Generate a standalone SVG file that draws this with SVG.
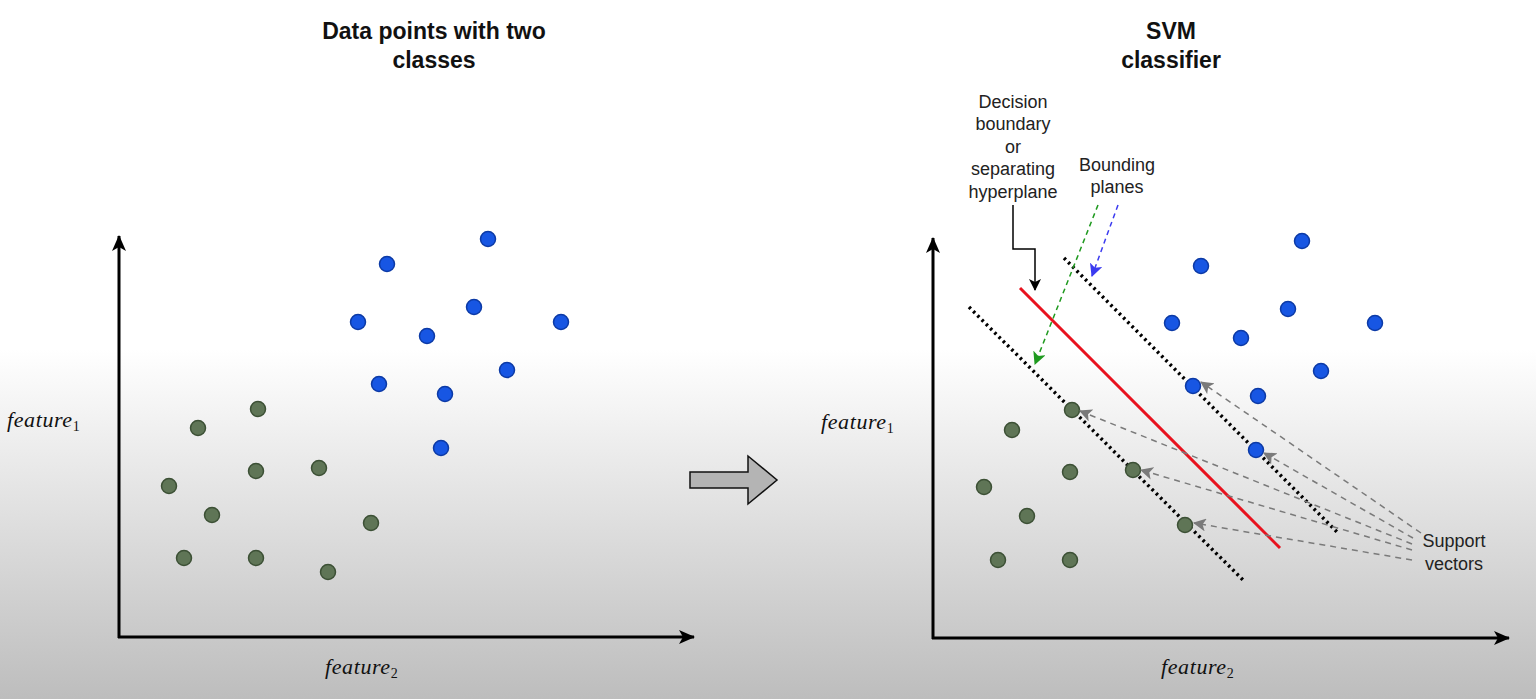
<svg xmlns="http://www.w3.org/2000/svg" width="1536" height="699" viewBox="0 0 1536 699">
<defs>
<linearGradient id="bg" x1="0" y1="0" x2="0" y2="699" gradientUnits="userSpaceOnUse">
<stop offset="0" stop-color="#ffffff"/>
<stop offset="0.5" stop-color="#ffffff"/>
<stop offset="1" stop-color="#bdbdbd"/>
</linearGradient>
<marker id="ah" viewBox="0 0 12 12" refX="11" refY="6" markerWidth="12" markerHeight="12" markerUnits="userSpaceOnUse" orient="auto">
<path d="M0,0 L12,6 L0,12 L3,6 Z" fill="#000"/>
</marker>
<marker id="ahBig" viewBox="0 0 16 16" refX="15" refY="8" markerWidth="16" markerHeight="16" markerUnits="userSpaceOnUse" orient="auto">
<path d="M0,1 L16,8 L0,15 L4,8 Z" fill="#000"/>
</marker>
<marker id="ahGreen" viewBox="0 0 12 12" refX="11" refY="6" markerWidth="13" markerHeight="13" markerUnits="userSpaceOnUse" orient="auto">
<path d="M0,0 L12,6 L0,12 L3,6 Z" fill="#1f9a1f"/>
</marker>
<marker id="ahBlue" viewBox="0 0 12 12" refX="11" refY="6" markerWidth="13" markerHeight="13" markerUnits="userSpaceOnUse" orient="auto">
<path d="M0,0 L12,6 L0,12 L3,6 Z" fill="#3b3bf0"/>
</marker>
<marker id="ahGray" viewBox="0 0 12 12" refX="11" refY="6" markerWidth="13" markerHeight="13" markerUnits="userSpaceOnUse" orient="auto">
<path d="M0,0 L12,6 L0,12 L3,6 Z" fill="#7a7a7a"/>
</marker>
</defs>
<style>
.title{font-family:"Liberation Sans",Arial,sans-serif;font-size:23px;font-weight:bold;fill:#111;text-anchor:middle}
.lbl{font-family:"Liberation Sans",Arial,sans-serif;font-size:18px;fill:#222;text-anchor:middle}
.math{font-family:"Liberation Serif","DejaVu Serif",serif;font-style:italic;font-size:22px;letter-spacing:0.6px;fill:#111}
.sub{font-style:normal;font-size:14px}
.axis{stroke:#000;stroke-width:3;fill:none}
.blue{fill:#1756e3;stroke:#0c3aa6;stroke-width:1.5}
.green{fill:#5f7556;stroke:#3c5035;stroke-width:1.5}
.dotline{stroke:#000;stroke-width:3.5;stroke-dasharray:2.5 3.5;fill:none}
.sv{stroke:#7a7a7a;stroke-width:1.5;stroke-dasharray:6 5;fill:none}
</style>
<rect x="0" y="0" width="1536" height="699" fill="url(#bg)"/>

<g id="title-left">
<text class="title" x="434" y="39">Data points with two</text>
<text class="title" x="434" y="68">classes</text>
</g>
<g id="title-right">
<text class="title" x="1171" y="39">SVM</text>
<text class="title" x="1171" y="68">classifier</text>
</g>

<g id="axes-left">
<line class="axis" x1="119" y1="638" x2="119" y2="236" marker-end="url(#ahBig)"/>
<line class="axis" x1="118" y1="637" x2="694" y2="637" marker-end="url(#ahBig)"/>
<text class="math" x="7" y="427">feature<tspan class="sub" dy="4">1</tspan></text>
<text class="math" x="325" y="674">feature<tspan class="sub" dy="4">2</tspan></text>
</g>

<g id="axes-right">
<line class="axis" x1="933" y1="639" x2="933" y2="238" marker-end="url(#ahBig)"/>
<line class="axis" x1="932" y1="638" x2="1509" y2="638" marker-end="url(#ahBig)"/>
<text class="math" x="821" y="429">feature<tspan class="sub" dy="4">1</tspan></text>
<text class="math" x="1161" y="674">feature<tspan class="sub" dy="4">2</tspan></text>
</g>

<g id="points-left">
<circle class="blue" cx="488" cy="239" r="7.5"/>
<circle class="blue" cx="387" cy="264" r="7.5"/>
<circle class="blue" cx="474" cy="307" r="7.5"/>
<circle class="blue" cx="358" cy="322" r="7.5"/>
<circle class="blue" cx="427" cy="336" r="7.5"/>
<circle class="blue" cx="561" cy="322" r="7.5"/>
<circle class="blue" cx="507" cy="370" r="7.5"/>
<circle class="blue" cx="379" cy="384" r="7.5"/>
<circle class="blue" cx="445" cy="394" r="7.5"/>
<circle class="blue" cx="441" cy="448" r="7.5"/>
<circle class="green" cx="258" cy="409" r="7.5"/>
<circle class="green" cx="198" cy="428" r="7.5"/>
<circle class="green" cx="256" cy="471" r="7.5"/>
<circle class="green" cx="319" cy="468" r="7.5"/>
<circle class="green" cx="169" cy="486" r="7.5"/>
<circle class="green" cx="212" cy="515" r="7.5"/>
<circle class="green" cx="371" cy="523" r="7.5"/>
<circle class="green" cx="184" cy="558" r="7.5"/>
<circle class="green" cx="256" cy="558" r="7.5"/>
<circle class="green" cx="328" cy="572" r="7.5"/>
</g>

<g id="transform-arrow">
<path d="M690,472 L748,472 L748,456 L777,480 L748,504 L748,488 L690,488 Z" fill="#b4b4b4" stroke="#111" stroke-width="1.5" stroke-linejoin="miter"/>
</g>

<g id="planes">
<line class="dotline" x1="969" y1="307" x2="1244" y2="581"/>
<line class="dotline" x1="1064" y1="258" x2="1338" y2="533"/>
<line id="decision-boundary" x1="1020" y1="288" x2="1280" y2="548" stroke="#e8121e" stroke-width="3"/>
</g>

<g id="points-right">
<circle class="blue" cx="1302" cy="241" r="7.5"/>
<circle class="blue" cx="1201" cy="266" r="7.5"/>
<circle class="blue" cx="1288" cy="309" r="7.5"/>
<circle class="blue" cx="1172" cy="323" r="7.5"/>
<circle class="blue" cx="1241" cy="338" r="7.5"/>
<circle class="blue" cx="1375" cy="323" r="7.5"/>
<circle class="blue" cx="1321" cy="371" r="7.5"/>
<circle class="blue" cx="1193" cy="386" r="7.5"/>
<circle class="blue" cx="1258" cy="396" r="7.5"/>
<circle class="blue" cx="1256" cy="450" r="7.5"/>
<circle class="green" cx="1072" cy="410" r="7.5"/>
<circle class="green" cx="1012" cy="430" r="7.5"/>
<circle class="green" cx="1070" cy="472" r="7.5"/>
<circle class="green" cx="1133" cy="470" r="7.5"/>
<circle class="green" cx="984" cy="487" r="7.5"/>
<circle class="green" cx="1027" cy="516" r="7.5"/>
<circle class="green" cx="1185" cy="525" r="7.5"/>
<circle class="green" cx="998" cy="560" r="7.5"/>
<circle class="green" cx="1070" cy="560" r="7.5"/>
</g>

<g id="label-decision">
<text class="lbl" x="1013" y="108">Decision</text>
<text class="lbl" x="1013" y="130">boundary</text>
<text class="lbl" x="1013" y="153">or</text>
<text class="lbl" x="1013" y="175">separating</text>
<text class="lbl" x="1013" y="198">hyperplane</text>
</g>
<g id="label-bounding">
<text class="lbl" x="1117" y="171">Bounding</text>
<text class="lbl" x="1117" y="193">planes</text>
</g>
<g id="label-support">
<text class="lbl" x="1454" y="547">Support</text>
<text class="lbl" x="1454" y="570">vectors</text>
</g>

<g id="connectors">
<path d="M1013,205 L1013,249 L1035,249 L1035,290" fill="none" stroke="#000" stroke-width="1.5" marker-end="url(#ah)"/>
<line x1="1098" y1="205" x2="1035" y2="364" stroke="#1f9a1f" stroke-width="1.5" stroke-dasharray="5 4" marker-end="url(#ahGreen)"/>
<line x1="1118" y1="205" x2="1092" y2="276" stroke="#3b3bf0" stroke-width="1.5" stroke-dasharray="5 4" marker-end="url(#ahBlue)"/>
<line class="sv" x1="1421" y1="533" x2="1201" y2="382" marker-end="url(#ahGray)"/>
<line class="sv" x1="1413" y1="538" x2="1264" y2="453" marker-end="url(#ahGray)"/>
<line class="sv" x1="1412" y1="544" x2="1080" y2="411" marker-end="url(#ahGray)"/>
<line class="sv" x1="1412" y1="550" x2="1141" y2="470" marker-end="url(#ahGray)"/>
<line class="sv" x1="1412" y1="560" x2="1194" y2="523" marker-end="url(#ahGray)"/>
</g>
</svg>
